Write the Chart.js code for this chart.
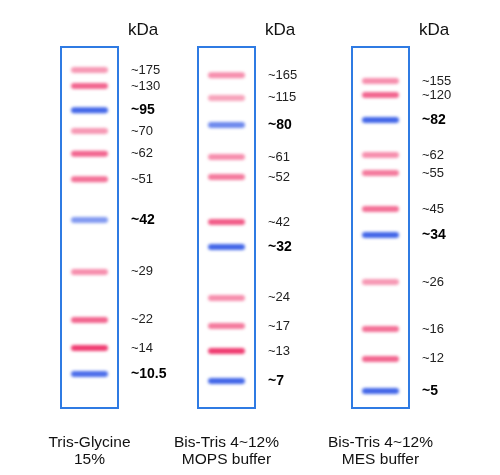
<!DOCTYPE html>
<html>
<head>
<meta charset="utf-8">
<script src="https://cdn.jsdelivr.net/npm/chart.js@4"></script>
<style>
  html, body { margin: 0; padding: 0; background: #fff; }
  #wrap { position: relative; width: 500px; height: 475px; overflow: hidden; }
  .lane { position: absolute; top: 0; width: 177px; height: 475px; }
  #lane1 { left: 11px; }
  #lane2 { left: 148px; }
  #lane3 { left: 302px; }
</style>
</head>
<body>
<div id="wrap">
  <div class="lane" id="lane1"><canvas id="c1"></canvas></div>
  <div class="lane" id="lane2"><canvas id="c2"></canvas></div>
  <div class="lane" id="lane3"><canvas id="c3"></canvas></div>
</div>
<script>
// band sizes (kDa), migration (% of gel length from the top), band intensity 0..1
const lane1Sizes = ['175', '130', '95', '70', '62', '51', '42', '29', '22', '14', '10.5'];
const lane1Migration = [6.4, 10.8, 17.5, 23.3, 29.6, 36.6, 47.9, 62.3, 75.6, 83.4, 90.6];
const lane1Intensity = [0.5, 0.75, 0.9, 0.5, 0.75, 0.7, 0.6, 0.55, 0.75, 0.95, 0.85];
const lane1Markers = ['95', '42', '10.5'];
const lane1Title = ['Tris-Glycine', '15%'];

const lane2Sizes = ['165', '115', '80', '61', '52', '42', '32', '24', '17', '13', '7'];
const lane2Migration = [7.8, 14.1, 21.6, 30.5, 36.0, 48.5, 55.4, 69.5, 77.3, 84.2, 92.5];
const lane2Intensity = [0.55, 0.45, 0.7, 0.55, 0.65, 0.8, 0.9, 0.55, 0.65, 0.95, 0.9];
const lane2Markers = ['80', '32', '7'];
const lane2Title = ['Bis-Tris 4~12%', 'MOPS buffer'];

const lane3Sizes = ['155', '120', '82', '62', '55', '45', '34', '26', '16', '12', '5'];
const lane3Migration = [9.4, 13.3, 20.2, 29.9, 34.9, 44.9, 52.1, 65.1, 78.1, 86.4, 95.3];
const lane3Intensity = [0.55, 0.75, 0.9, 0.55, 0.65, 0.7, 0.9, 0.5, 0.7, 0.75, 0.9];
const lane3Markers = ['82', '34', '5'];
const lane3Title = ['Bis-Tris 4~12%', 'MES buffer'];

const FONT = '"Liberation Sans", Arial, sans-serif';

// 边框、kDa 和底部标题
const gelFrame = {
    id: 'gelFrame',
    beforeDatasetsDraw(chart) {
        const c = chart.ctx;
        c.save();
        c.filter = 'blur(1.6px)';
        c.lineCap = 'round';
    },
    afterDatasetsDraw(chart) {
        chart.ctx.restore();
    },
    afterDraw(chart, args, opts) {
        const { ctx, chartArea: a } = chart;
        ctx.save();
        ctx.strokeStyle = '#2f7be3';
        ctx.lineWidth = 2;
        ctx.strokeRect(a.left, a.top, a.right - a.left, a.bottom - a.top);

        ctx.fillStyle = '#111';
        ctx.textBaseline = 'alphabetic';
        ctx.textAlign = 'left';
        ctx.font = '17px ' + FONT;
        ctx.fillText('kDa', a.right + 10, a.top - 12);

        ctx.textAlign = 'center';
        ctx.font = '15.5px ' + FONT;
        const cx = (a.left + a.right) / 2;
        opts.title.forEach((t, i) => ctx.fillText(t, cx, a.bottom + 39 + i * 17));
        ctx.restore();
    }
};

function bandColor(size, intensity, markers) {
    return markers.includes(size)
        ? `rgba(45, 85, 230, ${intensity})`
        : `rgba(238, 50, 105, ${intensity})`;
}

function makeLane(id, sizes, migration, intensity, markers, title) {
    const ctx = document.getElementById(id).getContext('2d');
    return new Chart(ctx, {
        type: 'scatter',
        data: {
            datasets: [{
                data: migration.map(v => ({ x: 0.5, y: v })),
                pointStyle: 'line',
                pointRadius: 15.5,
                pointBorderWidth: 6,
                pointBackgroundColor: 'transparent',
                pointBorderColor: sizes.map((s, i) => bandColor(s, intensity[i], markers))
            }]
        },
        options: {
            responsive: true,
            maintainAspectRatio: false,
            animation: false,
            events: [],
            layout: { padding: { left: 50, top: 47, bottom: 67, right: 0 } },
            scales: {
                x: { type: 'linear', min: 0, max: 1, display: false },
                y: {
                    type: 'linear',
                    position: 'right',
                    reverse: true,
                    min: 0,
                    max: 100,
                    grid: { display: false, drawTicks: false },
                    border: { display: false },
                    afterFit: s => { s.width = 70; },
                    afterBuildTicks: s => { s.ticks = migration.map(v => ({ value: v })); },
                    ticks: {
                        autoSkip: false,
                        padding: 13,
                        callback: (v, i) => '~' + sizes[i],
                        color: c => markers.includes(sizes[c.index]) ? '#000' : '#222',
                        font: c => markers.includes(sizes[c.index])
                            ? { family: FONT, size: 14, weight: 'bold' }
                            : { family: FONT, size: 13, weight: 'normal' }
                    }
                }
            },
            plugins: {
                legend: { display: false },
                tooltip: { enabled: false },
                gelFrame: { title: title }
            }
        },
        plugins: [gelFrame]
    });
}

makeLane('c1', lane1Sizes, lane1Migration, lane1Intensity, lane1Markers, lane1Title);
makeLane('c2', lane2Sizes, lane2Migration, lane2Intensity, lane2Markers, lane2Title);
makeLane('c3', lane3Sizes, lane3Migration, lane3Intensity, lane3Markers, lane3Title);
</script>
</body>
</html>
